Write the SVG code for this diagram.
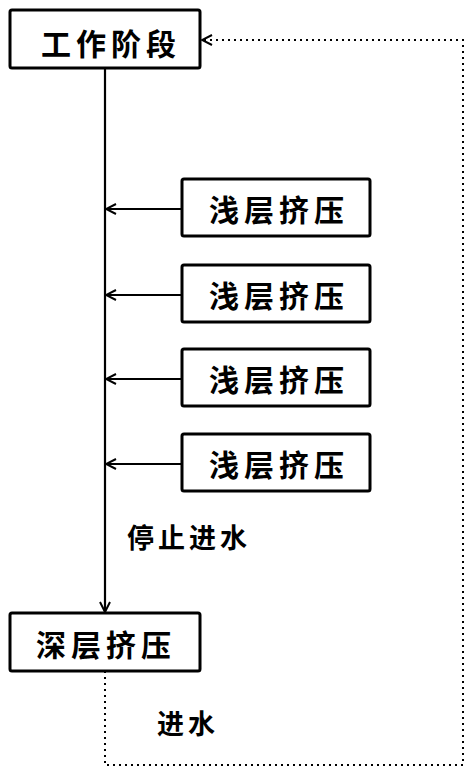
<svg xmlns="http://www.w3.org/2000/svg" width="474" height="778" viewBox="0 0 474 778">
<style>
.box{fill:#fff;stroke:#000;stroke-width:3}
.t{font-family:"Noto Sans CJK SC","Noto Sans CJK JP",sans-serif;font-size:30px;font-weight:bold;fill:#000;text-anchor:middle;dominant-baseline:central;letter-spacing:5px}
.lbl{font-family:"Noto Sans CJK SC",sans-serif;font-size:27px;font-weight:bold;fill:#000;dominant-baseline:central;letter-spacing:4px}
.solid{fill:none;stroke:#000;stroke-width:2.2}
.dot{fill:none;stroke:#000;stroke-width:2;stroke-dasharray:2 4}
</style>
<defs>
<marker id="arr" viewBox="0 0 12 12" refX="11" refY="6" markerWidth="12" markerHeight="12" markerUnits="userSpaceOnUse" orient="auto">
<path d="M1,1 L11,6 L1,11" fill="none" stroke="#000" stroke-width="2"/>
</marker>
</defs>
<g id="connectors">
<path class="solid" d="M105,68 V612" marker-end="url(#arr)"/>
<path class="solid" d="M182,209 H106" marker-end="url(#arr)"/>
<path class="solid" d="M182,295 H106" marker-end="url(#arr)"/>
<path class="solid" d="M182,379 H106" marker-end="url(#arr)"/>
<path class="solid" d="M182,464 H106" marker-end="url(#arr)"/>
<path class="dot" d="M105,671 V765 H463 V40 H202" marker-end="url(#arr)"/>
</g>
<g id="n_work">
<rect class="box" x="10" y="10" width="190" height="58" rx="2"/>
<text class="t" x="111" y="42">工作阶段</text>
</g>
<g id="n_s1">
<rect class="box" x="182" y="179" width="188" height="57" rx="2"/>
<text class="t" x="279" y="208">浅层挤压</text>
</g>
<g id="n_s2">
<rect class="box" x="182" y="265" width="188" height="57" rx="2"/>
<text class="t" x="279" y="294">浅层挤压</text>
</g>
<g id="n_s3">
<rect class="box" x="182" y="349" width="188" height="57" rx="2"/>
<text class="t" x="279" y="378">浅层挤压</text>
</g>
<g id="n_s4">
<rect class="box" x="182" y="434" width="188" height="57" rx="2"/>
<text class="t" x="279" y="463">浅层挤压</text>
</g>
<g id="n_deep">
<rect class="box" x="10" y="613" width="190" height="58" rx="2"/>
<text class="t" x="106" y="643">深层挤压</text>
</g>
<g id="labels">
<text class="lbl" x="127" y="536">停止进水</text>
<text class="lbl" x="157" y="722">进水</text>
</g>
</svg>
